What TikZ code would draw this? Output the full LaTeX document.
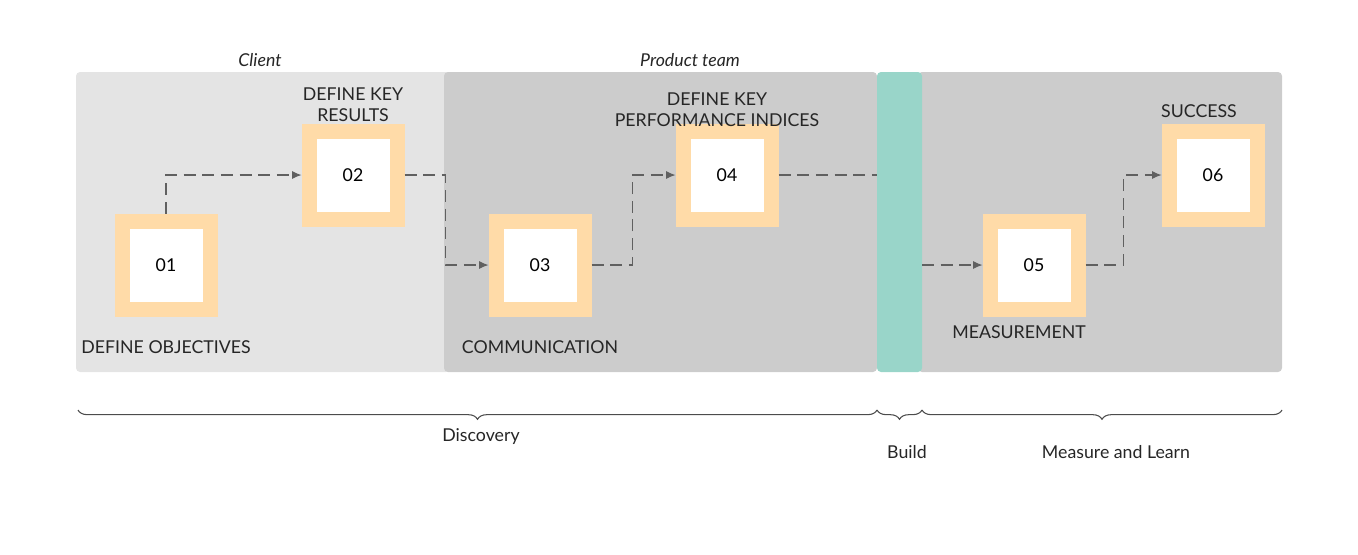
\documentclass[tikz,border=0pt]{standalone}
\usepackage{fontspec}
\setmainfont{Lato}
\usetikzlibrary{arrows.meta,decorations.pathreplacing}
\definecolor{clientgray}{HTML}{E4E4E4}
\definecolor{teamgray}{HTML}{CCCCCC}
\definecolor{buildteal}{HTML}{99D5C9}
\definecolor{stepfill}{HTML}{FFDBA8}
\definecolor{flowgray}{HTML}{606060}
\tikzset{
  stepbox/.style={draw=stepfill, line width=11.25pt, fill=white, minimum size=66pt, inner sep=0pt, font=\fontsize{13.3}{16}\selectfont},
  flow/.style={draw=flowgray, thick, dash pattern=on 9pt off 5pt, -{Latex[length=7pt,width=6pt]}},
  label/.style={font=\fontsize{13.3}{16}\selectfont, align=center, text=black!85},
  brace/.style={draw=black!70, thick, decorate, decoration={brace, mirror, amplitude=7pt}}
}
\begin{document}
\begin{tikzpicture}[x=0.75pt, y=-0.75pt]
    \useasboundingbox (0,0) rectangle (1358,554);

    % Panels
    \fill[clientgray, rounded corners=3pt] (76,72) rectangle (450,372);
    \fill[teamgray, rounded corners=3pt] (444,72) rectangle (877,372);
    \fill[teamgray, rounded corners=3pt] (918,72) rectangle (1282,372);
    \fill[buildteal, rounded corners=3pt] (877,72) rectangle (922,372);
    \coordinate (TL) at (877,175);
    \coordinate (TR) at (922,265);

    % Steps
    \node[stepbox] (s1) at (166,265) {01};
    \node[stepbox] (s2) at (353,175) {02};
    \node[stepbox] (s3) at (540,265) {03};
    \node[stepbox] (s4) at (727,175) {04};
    \node[stepbox] (s5) at (1034,265) {05};
    \node[stepbox] (s6) at (1213,175) {06};

    % Flow
    \draw[flow] (s1.north) |- (s2.west);
    \draw[flow] (s2.east) -- ++(41,0) |- (s3.west);
    \draw[flow] (s3.east) -- ++(41,0) |- (s4.west);
    \draw[flow, -] (s4.east) -- (TL);
    \draw[flow] (TR) -- (s5.west);
    \draw[flow] (s5.east) -- ++(38,0) |- (s6.west);

    % Labels
    \node[label, font=\fontsize{13.3}{16}\selectfont\itshape] (client) at (260,60) {Client};
    \node[label, font=\fontsize{13.3}{16}\selectfont\itshape] (team) at (690,60) {Product team};
    \node[label] (l1) at (166,347) {DEFINE OBJECTIVES};
    \node[label] (l2) at (353,105) {DEFINE KEY\\RESULTS};
    \node[label] (l3) at (540,347) {COMMUNICATION};
    \node[label] (l4) at (717,110) {DEFINE KEY\\PERFORMANCE INDICES};
    \node[label] (l5) at (1019,332) {MEASUREMENT};
    \node[label] (l6) at (1199,111) {SUCCESS};

    % Phases
    \draw[brace] (78,410) -- (877,410);
    \draw[brace] (877,410) -- (922,410);
    \draw[brace] (922,410) -- (1282,410);
    \node[label] (p1) at (481,437) {Discovery};
    \node[label] (p2) at (907,452) {Build};
    \node[label] (p3) at (1116,452) {Measure and Learn};
\end{tikzpicture}
\end{document}
